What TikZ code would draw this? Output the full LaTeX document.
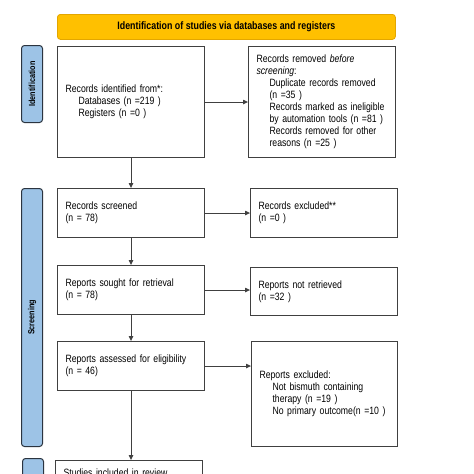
\documentclass[tikz,border=0pt]{standalone}
\usepackage{fontspec}
\setmainfont{Liberation Sans}
\newfontfamily\nar[FakeStretch=0.82]{Liberation Sans}
\usetikzlibrary{arrows.meta}
\definecolor{lineg}{HTML}{404040}
\definecolor{bannery}{HTML}{FFC000}
\definecolor{bannerb}{HTML}{E3A600}
\definecolor{sideblue}{HTML}{9DC3E6}
\definecolor{sideedge}{HTML}{2B3440}
\tikzset{
  x=1pt, y=-1pt,
  box/.style={draw=lineg, line width=1.1pt, fill=white, inner xsep=8pt, inner ysep=6pt, align=left,
    font=\nar\fontsize{10.6}{12}\selectfont, anchor=north west},
  side/.style={draw=sideedge, fill=sideblue, line width=1pt, rounded corners=3pt,
    minimum width=21pt, anchor=north west, inner sep=0pt},
  sidetxt/.style={rotate=90, font=\nar\bfseries\fontsize{8.8}{10}\selectfont},
  arr/.style={draw=lineg, line width=1.1pt, -{Triangle[length=5pt,width=4.5pt]}},
}
\begin{document}
\begin{tikzpicture}
\useasboundingbox (0,0) rectangle (474,474);
\clip (0,0) rectangle (474,474);
\fill[white] (0,0) rectangle (474,474);
% banner
\node[draw=bannerb, fill=bannery, line width=0.8pt, rounded corners=3pt, anchor=north west,
  minimum width=338pt, minimum height=25pt, inner sep=0pt,
  font=\nar\bfseries\fontsize{10.8}{12}\selectfont] (banner) at (57,14)
  {Identification of studies via databases and registers};
% side labels
\node[side, minimum height=77pt] (sid) at (21,45) {};
\node[sidetxt] (sidt) at (sid.center) {Identification};
\node[side, minimum height=258pt] (ssc) at (21,188) {};
\node[sidetxt] (ssct) at (ssc.center) {Screening};
\node[side, minimum height=62pt] (sin) at (22,458) {};
\node[sidetxt] (sint) at (sin.center) {Included};
% boxes
\node[box, minimum width=147pt, minimum height=111pt, text width=131pt] (ri) at (57,46)
  {Records identified from*:\\\hspace*{13pt}Databases (n =219 )\\\hspace*{13pt}Registers (n =0 )};
\node[box, minimum width=147pt, minimum height=111pt, text width=131pt] (rr) at (248,46)
  {Records removed \textit{before}\\\textit{screening}:\\
   \hspace*{13pt}Duplicate records removed\\\hspace*{13pt}(n =35 )\\
   \hspace*{13pt}Records marked as ineligible\\\hspace*{13pt}by automation tools (n =81 )\\
   \hspace*{13pt}Records removed for other\\\hspace*{13pt}reasons (n =25 )};
\node[box, minimum width=147pt, minimum height=49pt, text width=131pt] (rs) at (57,188)
  {Records screened\\(n = 78)};
\node[box, minimum width=147pt, minimum height=49pt, text width=131pt] (re) at (250,188)
  {Records excluded**\\(n =0 )};
\node[box, minimum width=147pt, minimum height=49pt, text width=131pt] (ps) at (57,265)
  {Reports sought for retrieval\\(n = 78)};
\node[box, minimum width=147pt, minimum height=48pt, text width=131pt] (pn) at (250,267)
  {Reports not retrieved\\(n =32 )};
\node[box, minimum width=147pt, minimum height=49pt, text width=131pt] (pa) at (57,341)
  {Reports assessed for eligibility\\(n = 46)};
\node[box, minimum width=146pt, minimum height=105pt, text width=130pt] (px) at (251,341)
  {Reports excluded:\\\hspace*{13pt}Not bismuth containing\\\hspace*{13pt}therapy (n =19 )\\
   \hspace*{13pt}No primary outcome(n =10 )};
\node[box, minimum width=147pt, text width=131pt, inner ysep=8pt] (si) at (55,460)
  {Studies included in review};
% arrows
\draw[arr] (ri.east) -- (ri.east -| rr.west);
\draw[arr] (ri.south) -- (rs.north);
\draw[arr] (rs.east) -- (rs.east -| re.west);
\draw[arr] (rs.south) -- (ps.north);
\draw[arr] (ps.east) -- (ps.east -| pn.west);
\draw[arr] (ps.south) -- (pa.north);
\draw[arr] (pa.east) -- (pa.east -| px.west);
\draw[arr] (pa.south) -- (pa.south |- si.north);
\end{tikzpicture}
\end{document}
